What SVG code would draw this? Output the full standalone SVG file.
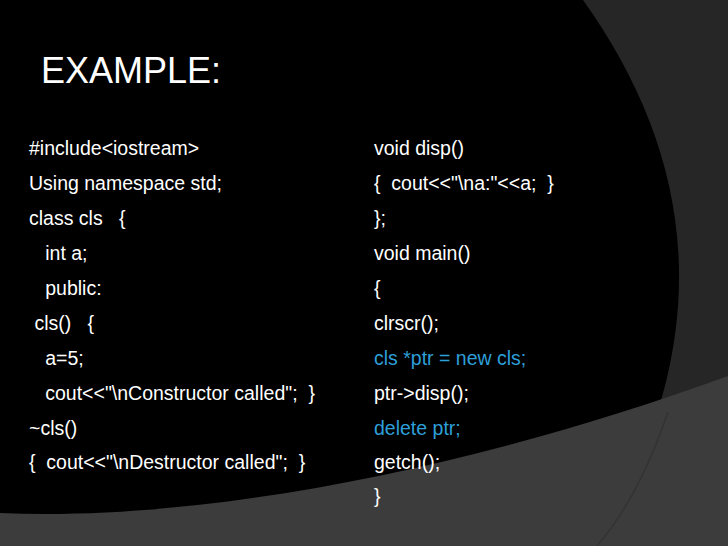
<svg xmlns="http://www.w3.org/2000/svg" width="728" height="546" viewBox="0 0 728 546">
<style>
.t{font-family:"Liberation Sans",Arial,sans-serif;font-size:19.5px;fill:#fff}
.b{fill:#2d9fd9}
</style>
<rect width="728" height="546" fill="#000"/>
<path d="M583,0 C690,150 725,330 597,546 L728,546 L728,0 Z" fill="#262626"/>
<path d="M0,513 C200,522 470,470 728,376 L728,546 L0,546 Z" fill="#3c3c3c"/>
<path d="M668,412 C650,465 628,510 597,546" fill="none" stroke="#333" stroke-width="1.5"/>
<text x="41" y="83" font-family="Liberation Sans,Arial,sans-serif" font-size="36" fill="#fff">EXAMPLE:</text>
<g class="t">
<text x="29" y="155">#include&lt;iostream&gt;</text>
<text x="29" y="190">Using namespace std;</text>
<text x="29" y="225" xml:space="preserve">class cls   {</text>
<text x="29" y="260" xml:space="preserve">   int a;</text>
<text x="29" y="295" xml:space="preserve">   public:</text>
<text x="29" y="330" xml:space="preserve"> cls()   {</text>
<text x="29" y="365" xml:space="preserve">   a=5;</text>
<text x="29" y="400" xml:space="preserve">   cout&lt;&lt;"\nConstructor called";  }</text>
<text x="29" y="435">~cls()</text>
<text x="29" y="469" xml:space="preserve">{  cout&lt;&lt;"\nDestructor called";  }</text>
<text x="374" y="155">void disp()</text>
<text x="374" y="190" xml:space="preserve">{  cout&lt;&lt;"\na:"&lt;&lt;a;  }</text>
<text x="374" y="225">};</text>
<text x="374" y="260">void main()</text>
<text x="374" y="295">{</text>
<text x="374" y="330">clrscr();</text>
<text x="374" y="365" class="b">cls *ptr = new cls;</text>
<text x="374" y="400">ptr-&gt;disp();</text>
<text x="374" y="435" class="b">delete ptr;</text>
<text x="374" y="469">getch();</text>
<text x="374" y="503">}</text>
</g>
</svg>
